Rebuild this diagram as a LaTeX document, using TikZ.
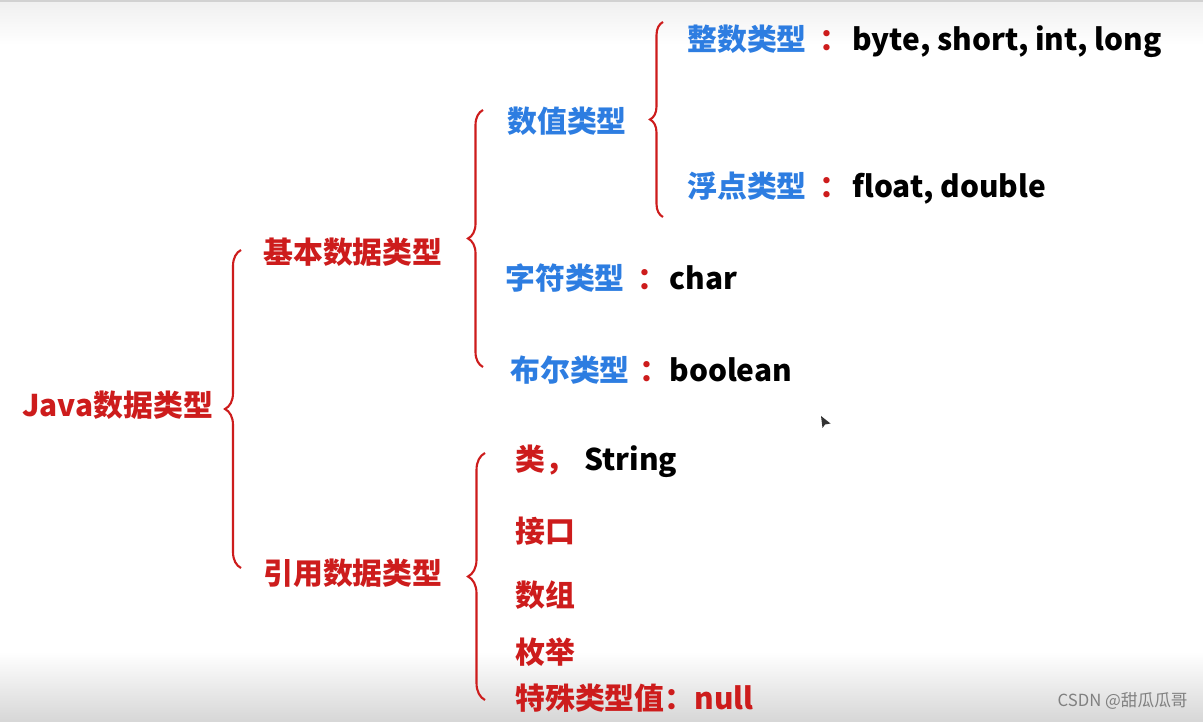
\documentclass[tikz,border=0pt]{standalone}
\usepackage{fontspec}
\setmainfont{Noto Sans CJK SC}
\usetikzlibrary{decorations.pathreplacing}

\definecolor{tred}{RGB}{205,28,28}
\definecolor{tblue}{RGB}{45,125,225}

\begin{document}
\begin{tikzpicture}[
    x=0.02cm, y=-0.02cm,
    font=\fontsize{17}{20}\selectfont\bfseries,
    lbl/.style={anchor=west, inner sep=0pt, text height=1.1em, text depth=0em},
    red lbl/.style={lbl, text=tred},
    blue lbl/.style={lbl, text=tblue},
    val/.style={lbl, text=black},
    colon/.style={inner sep=0pt, text=tred, text height=1.1em, text depth=0em},
    brc/.style={decorate, decoration={brace, amplitude=#1}, draw=tred, line width=1.2pt},
    brc/.default=0.3cm
]
    \useasboundingbox (0,0) rectangle (1203,722);
    % screenshot background
    \fill[white] (0,0) rectangle (1203,722);
    \shade[top color=black!6, bottom color=white] (0,2) rectangle (1203,45);
    \fill[black!18] (0,0) rectangle (1203,2);
    \shade[top color=white, bottom color=black!16] (0,652) rectangle (1203,722);

    % tree labels
    \node[red lbl] (java) at (22,407) {Java数据类型};
    \node[red lbl] (basic) at (263,254) {基本数据类型};
    \node[red lbl] (ref) at (263,575) {引用数据类型};

    \node[blue lbl] (num) at (507,123) {数值类型};
    \node[blue lbl] (int) at (687,41) {整数类型};
    \node[colon] (c1) at (834,41) {：};
    \node[val] (intv) at (852,41) {byte, short, int, long};
    \node[blue lbl] (flt) at (687,188) {浮点类型};
    \node[colon] (c2) at (834,188) {：};
    \node[val] (fltv) at (852,188) {float, double};
    \node[blue lbl] (chr) at (505,280) {字符类型};
    \node[colon] (c3) at (652,280) {：};
    \node[val] (chrv) at (669,280) {char};
    \node[blue lbl] (bool) at (510,372) {布尔类型};
    \node[colon] (c4) at (654,372) {：};
    \node[val] (boolv) at (669,372) {boolean};

    \node[red lbl] (cls) at (515,461) {类，};
    \node[val] (clsv) at (584,461) {String};
    \node[red lbl] (itf) at (515,533) {接口};
    \node[red lbl] (arr) at (515,597) {数组};
    \node[red lbl] (enm) at (515,654) {枚举};
    \node[red lbl] (nul) at (515,700) {特殊类型值：null};

    % brace ends
    \coordinate (b1t) at (241,250);  \coordinate (b1b) at (241,568);
    \coordinate (b2t) at (483,110);  \coordinate (b2b) at (483,367);
    \coordinate (b3t) at (663,22);   \coordinate (b3b) at (663,217);
    \coordinate (b4t) at (485,453);  \coordinate (b4b) at (485,700);

    \draw[brc=0.32cm] (b1b) -- (b1t);
    \draw[brc] (b2b) -- (b2t);
    \draw[brc=0.26cm] (b3b) -- (b3t);
    \draw[brc=0.34cm] (b4b) -- (b4t);

    % mouse pointer
    \fill[black!80] (821,416) -- (830.5,423.5) -- (825,424.5) -- (822.5,428) -- cycle;

    \node[anchor=east, inner sep=0pt, font=\fontsize{9.5}{11}\selectfont, text=black!50] (wm) at (1188,701) {CSDN @甜瓜瓜哥};
\end{tikzpicture}
\end{document}
